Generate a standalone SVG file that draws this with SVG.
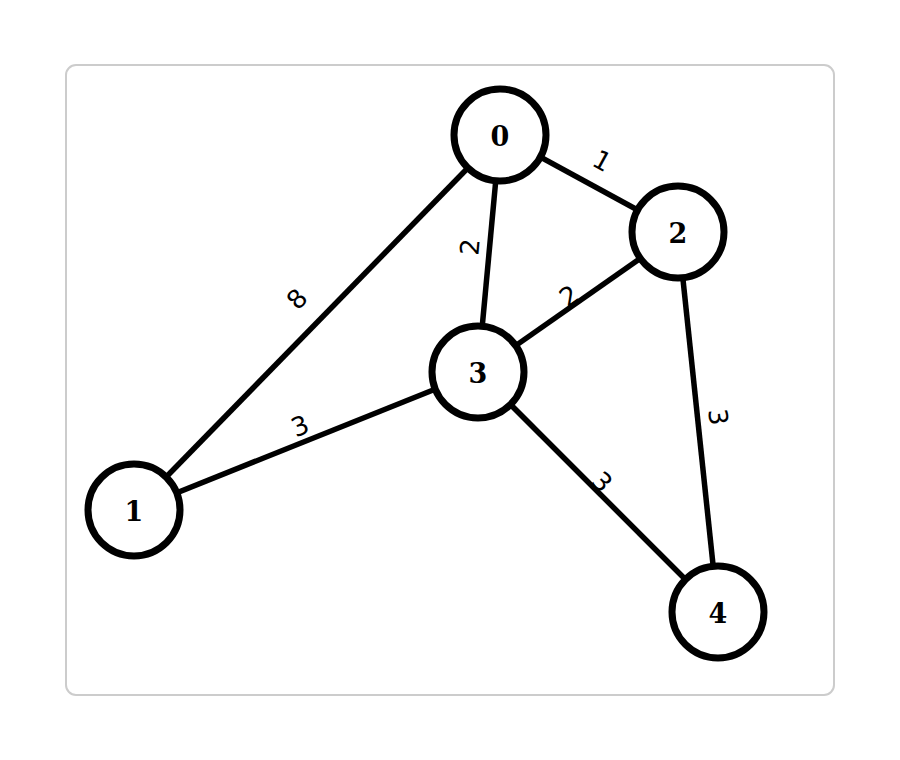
<svg xmlns="http://www.w3.org/2000/svg" width="900" height="760" viewBox="0 0 900 760">
<style>
.e{stroke:#000;stroke-width:5.5;fill:none}
.n{fill:#fff;stroke:#000;stroke-width:7}
.nt{font-family:"DejaVu Serif",serif;font-size:27px;font-weight:bold;text-anchor:middle;dominant-baseline:central}
.lt{font-family:"DejaVu Sans",sans-serif;font-size:26px;text-anchor:middle;dominant-baseline:central}
</style>
<rect x="0" y="0" width="900" height="760" fill="#fff"/>
<rect x="66" y="65" width="768" height="630" rx="10" fill="#fff" stroke="#ccc" stroke-width="2"/>
<g id="connectors">
<line class="e" x1="500" y1="135" x2="134" y2="510"/>
<line class="e" x1="500" y1="135" x2="678" y2="232"/>
<line class="e" x1="500" y1="135" x2="478" y2="372"/>
<line class="e" x1="478" y1="372" x2="678" y2="232"/>
<line class="e" x1="134" y1="510" x2="478" y2="372"/>
<line class="e" x1="478" y1="372" x2="718" y2="612"/>
<line class="e" x1="678" y1="232" x2="718" y2="612"/>
<text class="lt" transform="translate(297,299) rotate(-46)">8</text>
<text class="lt" transform="translate(602,161) rotate(29)">1</text>
<text class="lt" transform="translate(470,247) rotate(-85)">2</text>
<text class="lt" transform="translate(569,296) rotate(-35)">2</text>
<text class="lt" transform="translate(300,426) rotate(-22)">3</text>
<text class="lt" transform="translate(602,482) rotate(45)">3</text>
<text class="lt" transform="translate(718,417) rotate(84)">3</text>
</g>
<g id="n0"><circle class="n" cx="500" cy="135" r="46"/><text class="nt" x="500" y="136">0</text></g>
<g id="n2"><circle class="n" cx="678" cy="232" r="46"/><text class="nt" x="678" y="233">2</text></g>
<g id="n3"><circle class="n" cx="478" cy="372" r="46"/><text class="nt" x="478" y="373">3</text></g>
<g id="n1"><circle class="n" cx="134" cy="510" r="46"/><text class="nt" x="134" y="511">1</text></g>
<g id="n4"><circle class="n" cx="718" cy="612" r="46"/><text class="nt" x="718" y="613">4</text></g>
</svg>
